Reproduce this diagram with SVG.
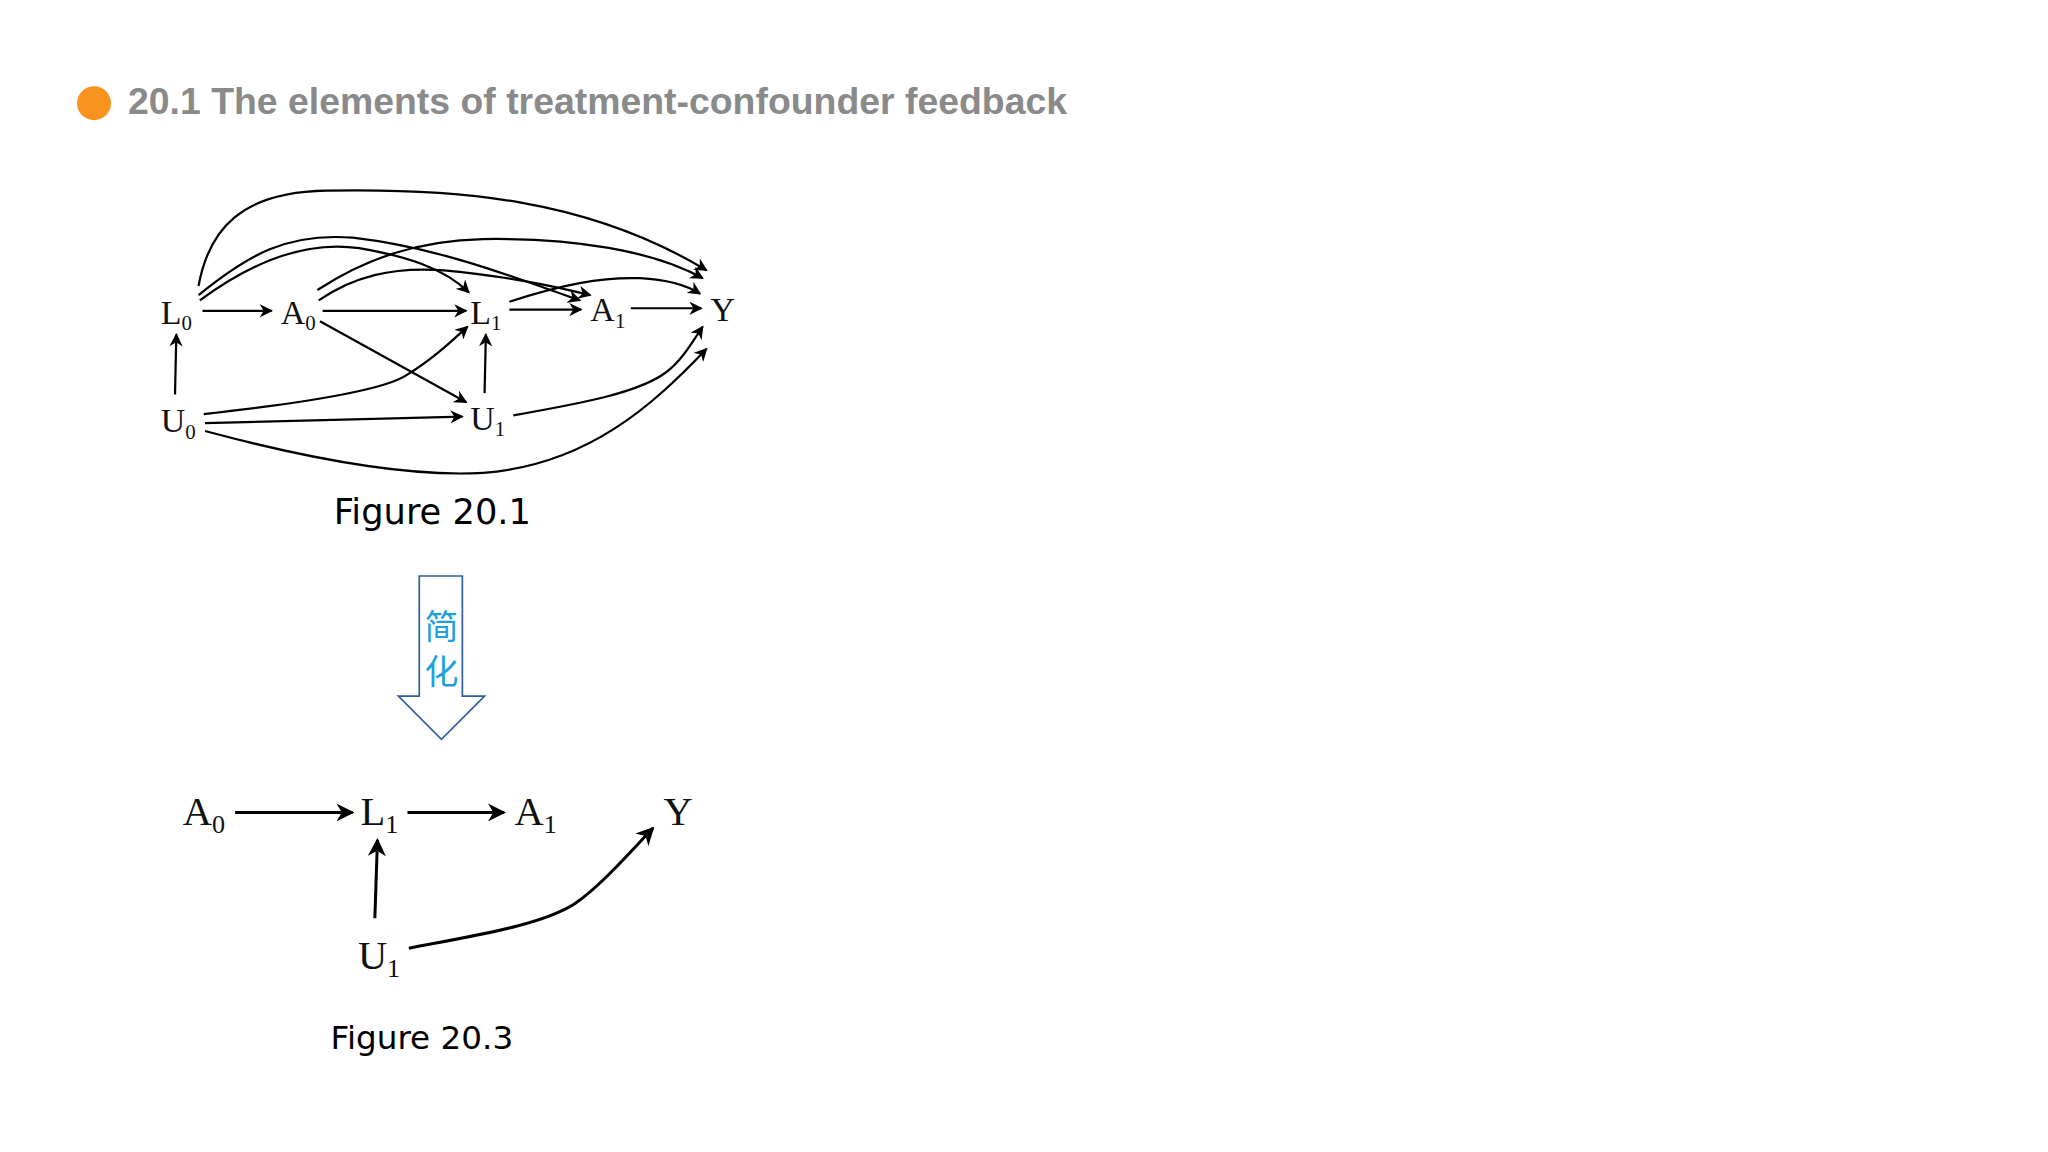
<svg xmlns="http://www.w3.org/2000/svg" width="2048" height="1152" viewBox="0 0 2048 1152">
<style>
.n{font-family:"Liberation Serif",serif;font-size:26px;fill:#111}
.n2{font-family:"Liberation Serif",serif;font-size:31px;fill:#111}
.s{font-size:16px}
.s2{font-size:20px}
.cap{font-family:"DejaVu Sans","Liberation Sans",sans-serif;fill:#000}
.e{fill:none;stroke:#000;stroke-width:1.7;marker-end:url(#ah)}
.e2{fill:none;stroke:#000;stroke-width:2.3;marker-end:url(#ah)}
</style>
<defs>
<marker id="ah" viewBox="0 0 10 10" refX="9" refY="5" markerWidth="6" markerHeight="6" orient="auto" markerUnits="strokeWidth">
<path d="M0,0 L10,5 L0,10 L3,5 z" fill="#000"/>
</marker>
</defs>
<rect width="2048" height="1152" fill="#fff"/>
<g transform="scale(1.30612)">
<g id="title">
<circle cx="72" cy="79" r="13" fill="#f7931e"/>
<text x="98" y="87" font-family="Liberation Sans,sans-serif" font-weight="bold" font-size="28" fill="#8a8a8a" textLength="719" lengthAdjust="spacingAndGlyphs">20.1 The elements of treatment-confounder feedback</text>
</g>
<g id="fig1-nodes">
<g id="L0"><text class="n" x="123" y="248">L<tspan class="s" dy="5">0</tspan></text></g>
<g id="A0"><text class="n" x="215" y="248">A<tspan class="s" dy="5">0</tspan></text></g>
<g id="L1"><text class="n" x="360" y="248">L<tspan class="s" dy="5">1</tspan></text></g>
<g id="A1"><text class="n" x="452" y="246">A<tspan class="s" dy="5">1</tspan></text></g>
<g id="Y"><text class="n" x="544" y="246">Y</text></g>
<g id="U0"><text class="n" x="123" y="331">U<tspan class="s" dy="5">0</tspan></text></g>
<g id="U1"><text class="n" x="360" y="329">U<tspan class="s" dy="5">1</tspan></text></g>
<text class="cap" x="331" y="401" font-size="27" text-anchor="middle">Figure 20.1</text>
</g>
<g id="fig1-edges">
<path class="e" d="M155,238 L208,238"/>
<path class="e" d="M247,238 L357,238"/>
<path class="e" d="M390,237 L445,237"/>
<path class="e" d="M483,236 L537,236"/>
<path class="e" d="M134,302 L135,256"/>
<path class="e" d="M371,301 L372,256"/>
<path class="e" d="M245,246 L357,308"/>
<path class="e" d="M156,317 C220,310 290,300 310,288 C330,276 345,262 358,250"/>
<path class="e" d="M157,324 L354,319"/>
<path class="e" d="M393,318 C450,308 490,300 510,285 C522,276 530,262 538,250"/>
<path class="e" d="M157,330 C250,355 320,365 370,362 C450,356 500,310 541,267"/>
<path class="e" d="M152,219 C160,175 185,147 250,146 C350,144 450,152 541,207"/>
<path class="e" d="M153,230 C200,195 240,185 275,190 C310,196 340,205 359,224"/>
<path class="e" d="M152,226 C190,195 220,178 270,182 C340,190 400,215 444,230"/>
<path class="e" d="M243,222 C280,198 320,184 370,183 C440,182 500,192 538,213"/>
<path class="e" d="M244,230 C270,212 300,204 340,207 C390,212 420,218 452,226"/>
<path class="e" d="M390,231 C430,218 460,212 490,213 C510,214 525,218 536,225"/>
</g>
<g id="simplify">
<path d="M321,441 H354 V533 H371 L338,566 L305,533 H321 Z" fill="#fff" stroke="#2f5f9e" stroke-width="1.3"/>
<text x="338" y="489" text-anchor="middle" font-family="Noto Sans CJK SC,sans-serif" font-size="26" fill="#1ea0dc">简</text>
<text x="338" y="524" text-anchor="middle" font-family="Noto Sans CJK SC,sans-serif" font-size="26" fill="#1ea0dc">化</text>
</g>
<g id="fig2-nodes">
<g id="bA0"><text class="n2" x="140" y="632">A<tspan class="s2" dy="6">0</tspan></text></g>
<g id="bL1"><text class="n2" x="276" y="632">L<tspan class="s2" dy="6">1</tspan></text></g>
<g id="bA1"><text class="n2" x="394" y="632">A<tspan class="s2" dy="6">1</tspan></text></g>
<g id="bY"><text class="n2" x="508" y="632">Y</text></g>
<g id="bU1"><text class="n2" x="274" y="742">U<tspan class="s2" dy="6">1</tspan></text></g>
<text class="cap" x="323" y="803" font-size="25" text-anchor="middle">Figure 20.3</text>
</g>
<g id="fig2-edges">
<path class="e2" d="M180,622 L270,622"/>
<path class="e2" d="M312,622 L386,622"/>
<path class="e2" d="M287,703 L289,643"/>
<path class="e2" d="M313,726 C370,715 415,708 440,692 C460,678 480,655 500,634"/>
</g>
</g>
</svg>
